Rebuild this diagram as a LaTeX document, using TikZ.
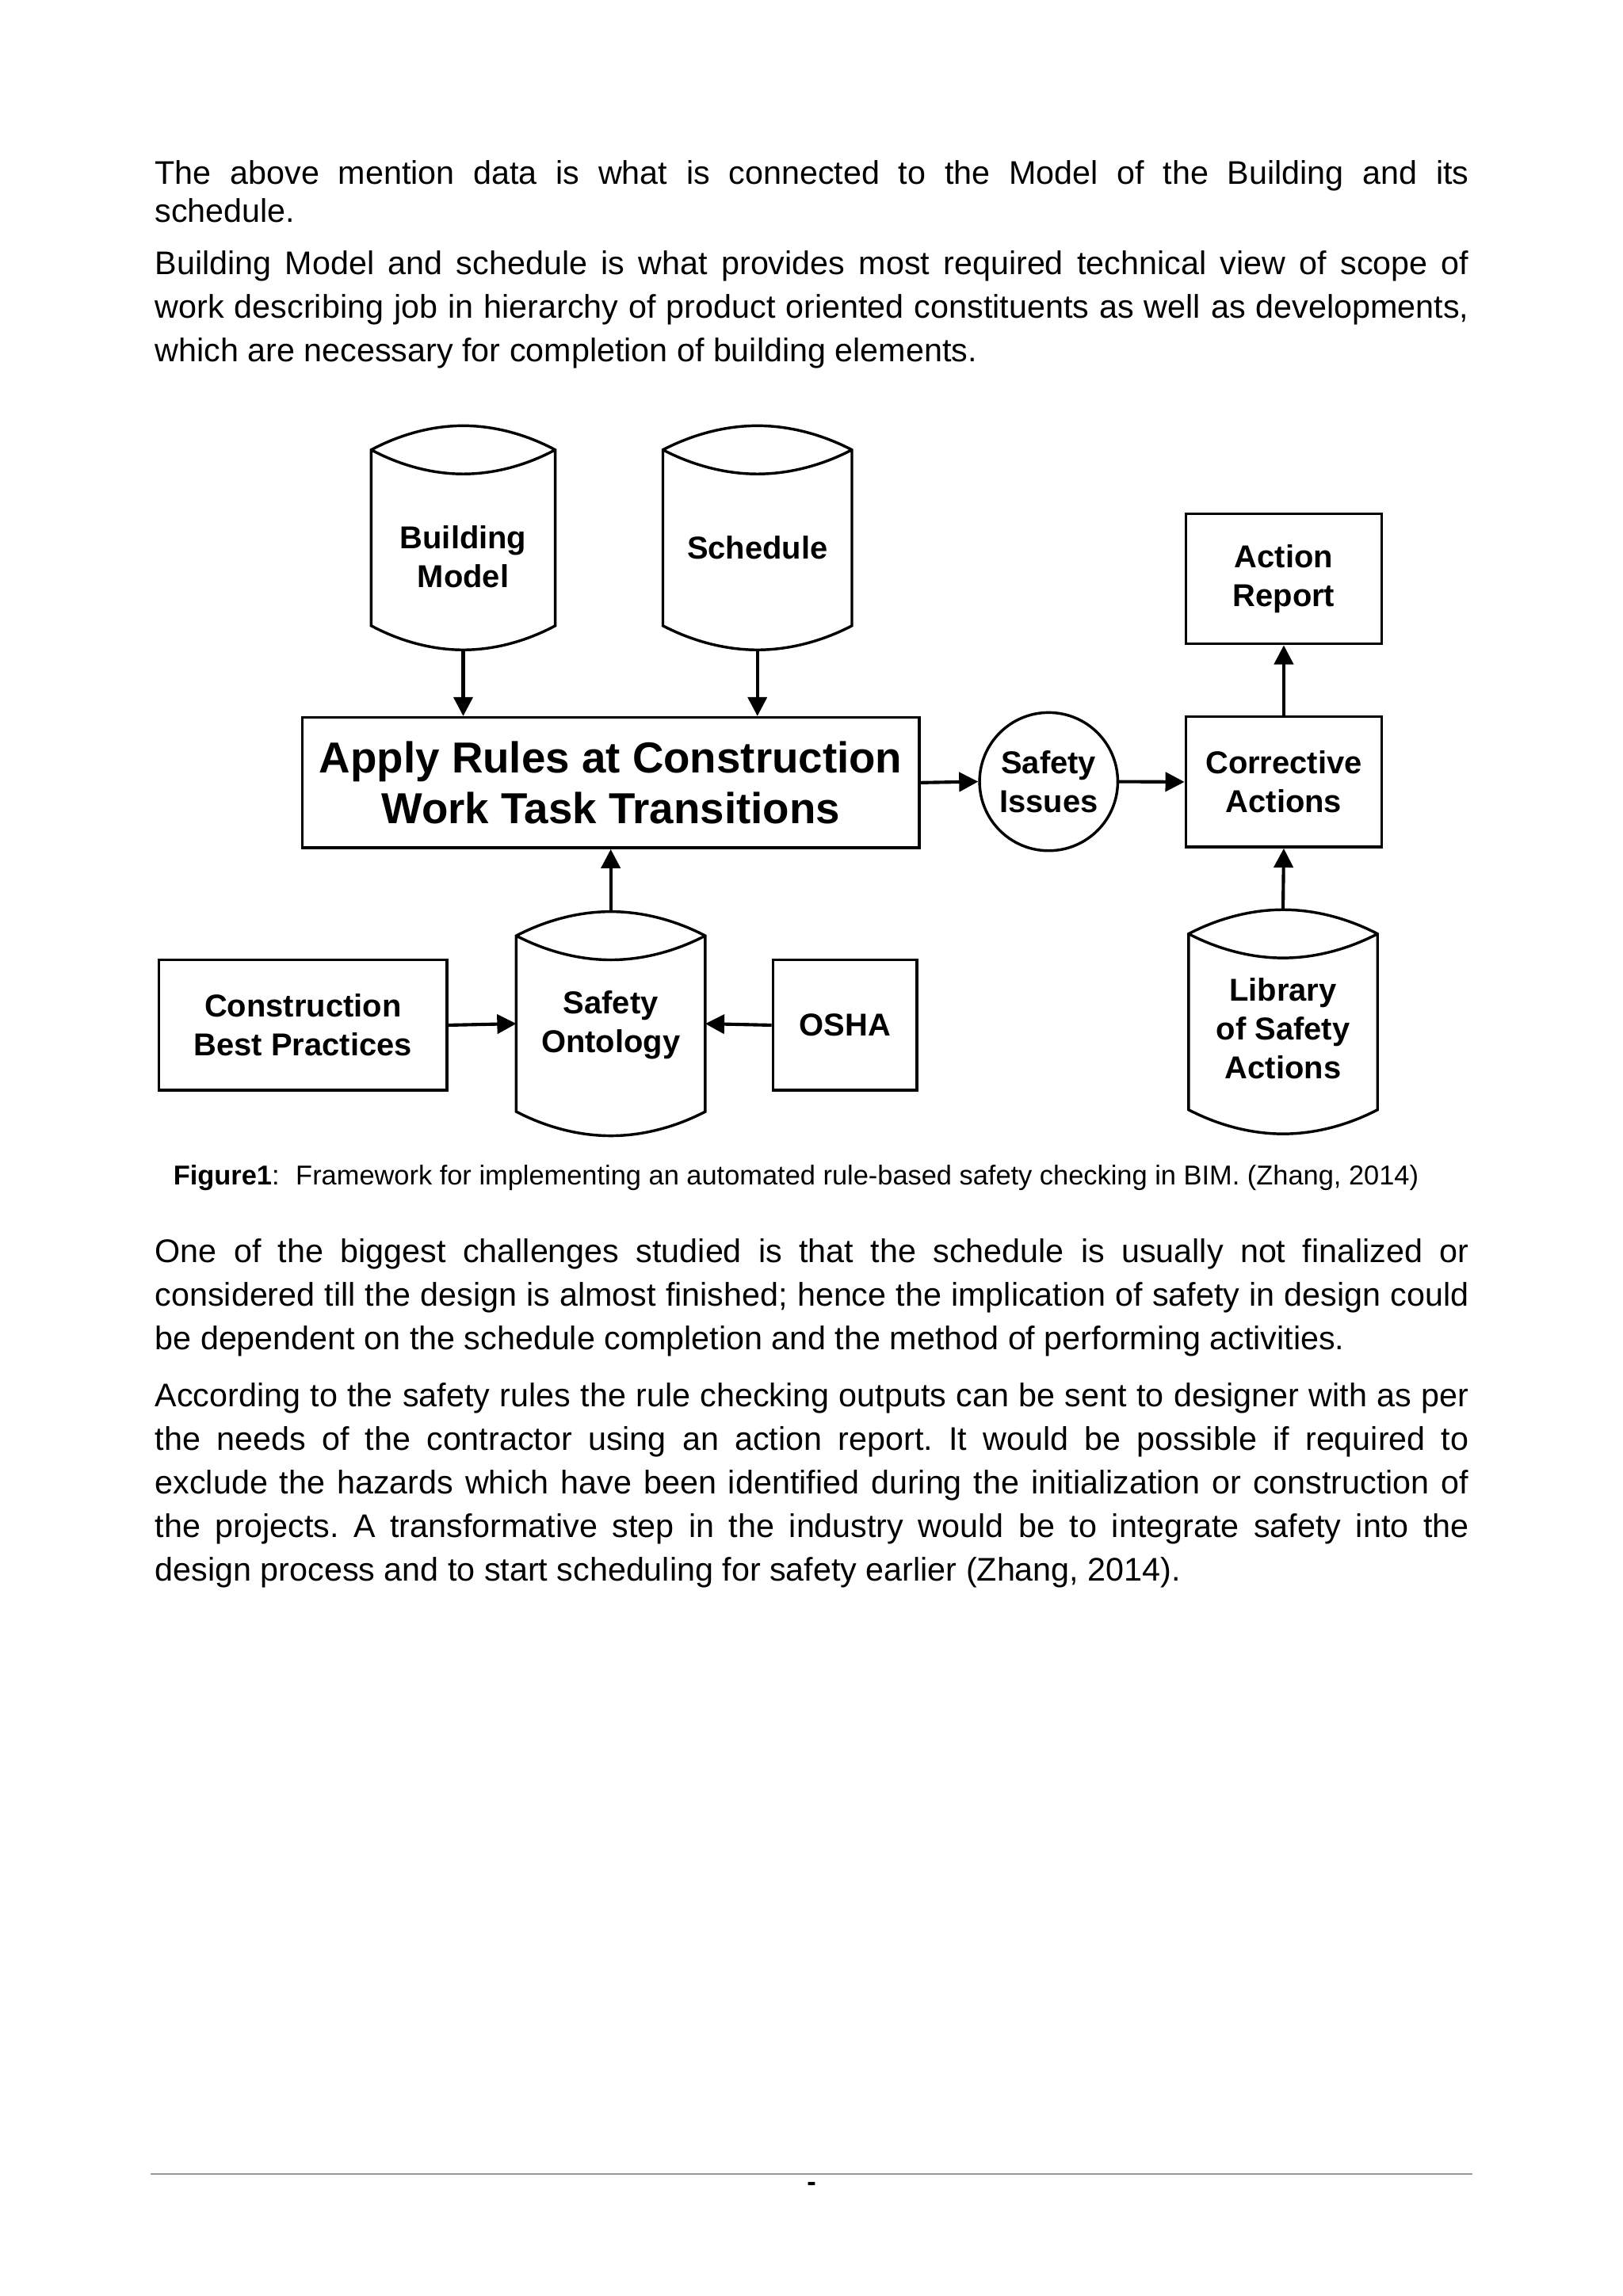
\documentclass[tikz,border=0pt]{standalone}
\usepackage{fontspec}
\setmainfont{Liberation Sans}
\usetikzlibrary{arrows.meta}
\hyphenpenalty=10000
\exhyphenpenalty=10000
\frenchspacing
\newdimen\upx \upx=0.53629pt
\newcommand{\rim}{8.85pt}
\newcommand{\lblfont}{\fontsize{11.6}{14.2}\selectfont\bfseries}
% outline of a data store round a named node
\newcommand{\dbdraw}[1]{%
\draw[dbline] ([yshift=-\rim]#1.north west) parabola bend (#1.north) ([yshift=-\rim]#1.north east)
  -- ([yshift=\rim]#1.south east) parabola bend (#1.south) ([yshift=\rim]#1.south west) -- cycle
  ([yshift=-\rim]#1.north west) parabola bend ([yshift=-2*\rim]#1.north) ([yshift=-\rim]#1.north east);}
\tikzset{
  box/.style={draw, line width=1pt, inner sep=0pt, align=center, font=\lblfont},
  db/.style={inner sep=0pt, minimum width=128.5*\upx, minimum height=152.6*\upx},
  dbtext/.style={align=center, inner sep=0pt, font=\lblfont},
  dbline/.style={line width=1pt},
  arr/.style={-{Triangle[length=7pt,width=7pt]}, line width=1.2pt},
  para/.style={anchor=base west, inner sep=0pt, text width=481.9pt, align=justify},
}
\begin{document}
\begin{tikzpicture}[x=0.53629pt, y=-0.53629pt]
\useasboundingbox (0,0) rectangle (1110,1570.7);
% text above
\node[para, font=\fontsize{12}{13.8}\selectfont\frenchspacing] (p1) at (105.7,126.1)
{The above mention data is what is connected to the Model of the Building and its\linebreak
schedule.};
\node[para, font=\fontsize{12}{16}\selectfont\frenchspacing] (p2) at (105.7,187.9)
{Building Model and schedule is what provides most required technical view of scope of\linebreak
work describing job in hierarchy of product oriented constituents as well as developments,\linebreak
which are necessary for completion of building elements.};
% the framework
\node[db, minimum width=125.1*\upx, label={[dbtext,yshift=-7pt]center:Building\\Model}] (bm) at (316.8,367.9) {};
\node[db, label={[dbtext,yshift=-3.5pt]center:Schedule}] (sch) at (518,367.9) {};
\node[box, minimum width=421.9*\upx, minimum height=89.2*\upx,
  font=\fontsize{15.9}{18.6}\selectfont\bfseries] (apply) at (417.7,535.4)
  {Apply Rules at Construction\\Work Task Transitions};
\node[box, circle, minimum size=94.5*\upx] (si) at (717.2,534.7) {Safety\\Issues};
\node[box, minimum width=134*\upx, minimum height=89.1*\upx] (ca) at (878,534.9) {Corrective\\Actions};
\node[box, minimum width=134*\upx, minimum height=89*\upx] (ar) at (878,396) {Action\\Report};
\node[box, minimum width=197.1*\upx, minimum height=89.1*\upx] (cbp) at (207.2,701.3) {Construction\\Best Practices};
\node[db, label={[dbtext,yshift=-0.5pt]center:Safety\\Ontology}] (so) at (417.7,700.3) {};
\node[box, minimum width=98.5*\upx, minimum height=89.1*\upx] (osha) at (577.9,701.3) {OSHA};
\node[db, label={[dbtext,yshift=-2.5pt]center:Library\\of Safety\\Actions}] (lib) at (877.5,699) {};
\dbdraw{bm}
\dbdraw{sch}
\dbdraw{so}
\dbdraw{lib}
\draw[arr] (bm.south) -- (bm.south |- apply.north);
\draw[arr] (sch.south) -- (sch.south |- apply.north);
\draw[arr] (so.north) -- (apply.south);
\draw[arr] (apply.east) -- (si.west);
\draw[arr] (si.east) -- (ca.west);
\draw[arr] (ca.north) -- (ar.south);
\draw[arr] (lib.north) -- (ca.south);
\draw[arr] (cbp.east) -- (so.west);
\draw[arr] (osha.west) -- (so.east);
\node[anchor=base west, inner sep=0pt, font=\fontsize{10}{12}\selectfont] (cap) at (118.2,810.3)
{\textbf{Figure1}:\hspace{6pt}Framework for implementing an automated rule-based safety checking in BIM. (Zhang, 2014)};
% text below
\node[para, font=\fontsize{12}{16}\selectfont\frenchspacing] (p3) at (105.7,863.6)
{One of the biggest challenges studied is that the schedule is usually not finalized or\linebreak
considered till the design is almost finished; hence the implication of safety in design could\linebreak
be dependent on the schedule completion and the method of performing activities.};
\node[para, font=\fontsize{12}{16}\selectfont\frenchspacing] (p4) at (105.7,962.1)
{According to the safety rules the rule checking outputs can be sent to designer with as per\linebreak
the needs of the contractor using an action report. It would be possible if required to\linebreak
exclude the hazards which have been identified during the initialization or construction of\linebreak
the projects. A transformative step in the industry would be to integrate safety into the\linebreak
design process and to start scheduling for safety earlier (Zhang, 2014).};
% page foot
\draw[black!40, line width=0.6pt] (103,1487) -- (1006.8,1487);
\node[anchor=base, inner sep=0pt, font=\fontsize{10}{12}\selectfont\bfseries] (pg) at (555,1498.6) {-};
\end{tikzpicture}
\end{document}
